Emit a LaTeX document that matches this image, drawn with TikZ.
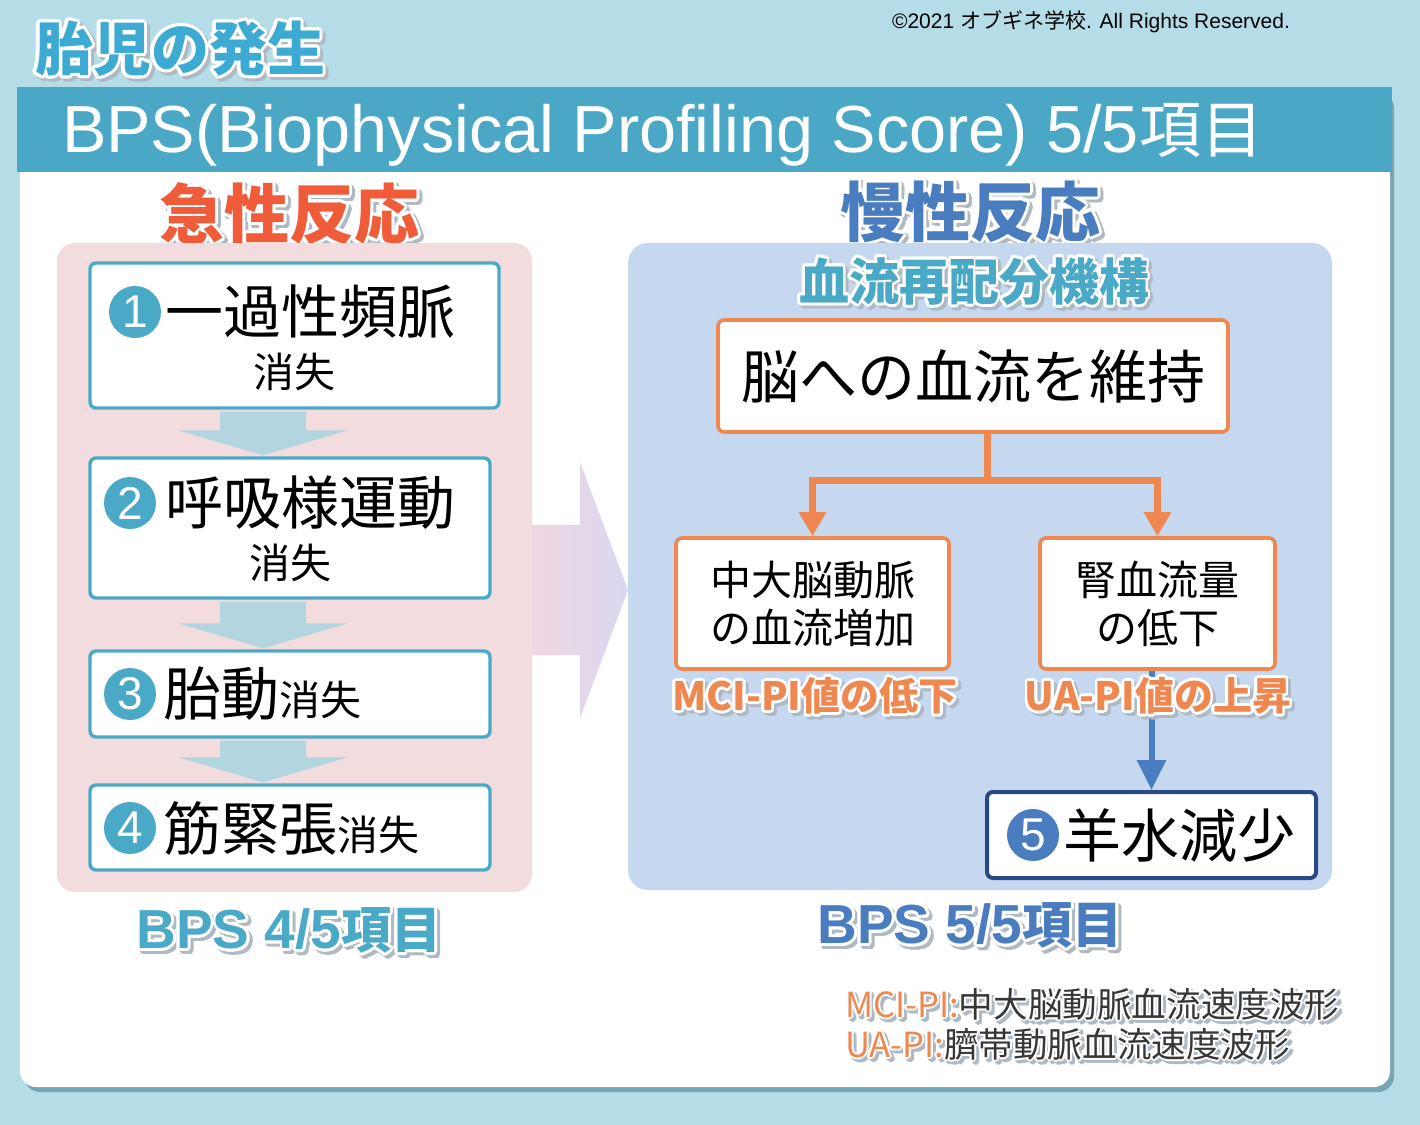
\documentclass[tikz,border=0pt]{standalone}
\usepackage{fontspec}
\usepackage[copies]{contour}
\setmainfont{Noto Sans CJK JP}
\newfontfamily\jp{Noto Sans CJK JP}
\newfontfamily\lat{Liberation Sans}
\usetikzlibrary{calc,arrows.meta}
\newcommand\myfs[2]{\fontsize{#1pt}{#2pt}\selectfont}
\definecolor{bgblue}{RGB}{181,221,231}
\definecolor{pshadow}{RGB}{120,165,180}
\definecolor{hdr}{RGB}{74,168,198}
\definecolor{tealc}{RGB}{75,169,200}
\definecolor{pinkp}{RGB}{242,220,222}
\definecolor{bluep}{RGB}{197,216,240}
\definecolor{orng}{RGB}{238,136,80}
\definecolor{redt}{RGB}{240,92,58}
\definecolor{bluet}{RGB}{74,124,192}
\definecolor{navyb}{RGB}{42,72,130}
\definecolor{arrlb}{RGB}{178,213,224}
\definecolor{arrpk}{RGB}{240,214,224}
\definecolor{arrlv}{RGB}{216,216,242}
\definecolor{dgray}{RGB}{55,55,55}
\definecolor{shdc}{RGB}{175,185,195}
\definecolor{ttlc}{RGB}{60,170,210}
\newcommand\glowtxt[5]{%
  \node[#3, text=shdc] at ($(#2)+(3,3)$) {\contourlength{#4}\contour{shdc}{#5}};
  \node[#3] (#1) at (#2) {\contourlength{#4}\contour{white}{#5}};}
\tikzset{
  txt/.style={inner sep=0pt, outer sep=0pt},
  lbox/.style={draw=tealc, line width=1.7pt, fill=white, rounded corners=3pt, inner sep=0pt},
  obox/.style={draw=orng, line width=1.8pt, fill=white, rounded corners=3pt, inner sep=0pt},
  nbox/.style={draw=navyb, line width=2pt, fill=white, rounded corners=3pt, inner sep=0pt},
  ncirc/.style={circle, fill=tealc, text=white, minimum size=26pt, inner sep=0pt, font=\lat\myfs{23}{23}},
  bigtxt/.style={txt, font=\myfs{29}{29}},
  smtxt/.style={txt, font=\myfs{20.5}{20.5}},
  oline/.style={draw=orng, line width=3.5pt, -{Triangle[width=13pt,length=12pt]}},
  bline/.style={draw=bluet, line width=3pt, -{Triangle[width=14pt,length=15pt]}},
}
\begin{document}
\begin{tikzpicture}[x=0.5pt,y=-0.5pt]
\useasboundingbox (0,0) rectangle (1420,1125);
\fill[bgblue] (0,0) rectangle (1420,1125);
% main panel
\fill[pshadow, rounded corners=8pt] (24,92) rectangle (1394,1092);
\fill[white, rounded corners=8pt] (20,88) rectangle (1390,1087);
\fill[hdr] (17,87) rectangle (1392,172);
\node[txt, anchor=base west, text=white, font=\lat\myfs{33.3}{33.3}] (hdrtxt) at (62,152)
  {BPS(Biophysical Profiling Score) 5/5{\jp\myfs{31}{31}項目}};
% title and copyright
\glowtxt{ttl}{180,50}{txt, text=ttlc, font=\bfseries\myfs{29}{29}}{1.6pt}{胎児の発生}
\node[txt, font=\myfs{10.5}{10.5}] (copy) at (1091,22) {{\lat ©2021 }オブギネ学校{\lat . All Rights Reserved.}};
% section headings
\glowtxt{acute}{289,215}{txt, text=redt, font=\bfseries\myfs{32.5}{32.5}}{1.6pt}{急性反応}
\glowtxt{chronic}{970,213}{txt, text=bluet, font=\bfseries\myfs{32.5}{32.5}}{1.6pt}{慢性反応}
% panels
\fill[pinkp, rounded corners=9pt] (57,243) rectangle (532,892);
\fill[bluep, rounded corners=10pt] (628,243) rectangle (1332,890);
\coordinate (lp) at (532,590);
\coordinate (rp) at (628,590);
% big arrow
\shade[left color=arrpk, right color=arrlv]
  ($(lp)+(0,-65)$) -- ($(lp)+(48,-65)$) -- ($(lp)+(48,-128)$) -- (rp)
  -- ($(lp)+(48,128)$) -- ($(lp)+(48,65)$) -- ($(lp)+(0,65)$) -- cycle;
% left boxes
\node[lbox, minimum width=204.5pt, minimum height=72.5pt] (b1) at (294.5,335.5) {};
\node[lbox, minimum width=200pt, minimum height=70pt] (b2) at (290,528) {};
\node[lbox, minimum width=200pt, minimum height=43pt] (b3) at (290,694) {};
\node[lbox, minimum width=200pt, minimum height=42.5pt] (b4) at (290,827.5) {};
\coordinate (ax) at (263,0);
\foreach \a/\b in {b1/b2,b2/b3,b3/b4}{
  \fill[arrlb] ($(ax |- \a.south)+(-43,2)$) -- ($(ax |- \a.south)+(43,2)$)
    -- ($(ax |- \b.north)+(43,-26)$) -- ($(ax |- \b.north)+(85,-26)$)
    -- ($(ax |- \b.north)+(0,-1)$) -- ($(ax |- \b.north)+(-85,-26)$)
    -- ($(ax |- \b.north)+(-43,-26)$) -- cycle;
}
\node[ncirc] (c1) at (135,312) {1};
\node[bigtxt, anchor=west] (t1) at (165,312) {一過性頻脈};
\node[smtxt] (s1) at (294,372) {消失};
\node[ncirc] (c2) at (130,503) {2};
\node[bigtxt, anchor=west] (t2) at (165,503) {呼吸様運動};
\node[smtxt] (s2) at (290,563) {消失};
\node[ncirc] (c3) at (130,694) {3};
\node[txt, anchor=west] (t3) at (163,694) {{\myfs{29}{29}胎動}{\myfs{20.5}{20.5}消失}};
\node[ncirc] (c4) at (130,828) {4};
\node[txt, anchor=west] (t4) at (163,828) {{\myfs{29}{29}筋緊張}{\myfs{20.5}{20.5}消失}};
% right side
\glowtxt{redis}{974,283}{txt, text=tealc, font=\bfseries\myfs{25}{25}}{1.4pt}{血流再配分機構}
\node[obox, minimum width=255pt, minimum height=56pt] (brain) at (973,376) {};
\node[bigtxt] (braint) at (973,376) {脳への血流を維持};
\node[obox, minimum width=136.5pt, minimum height=65.5pt] (mca) at (812.5,603.5) {};
\node[txt, align=center, font=\myfs{20.5}{24}] (mcat) at (812.5,604) {中大脳動脈\\の血流増加};
\node[obox, minimum width=117.5pt, minimum height=65.5pt] (kid) at (1157.5,603.5) {};
\node[txt, align=center, font=\myfs{20.5}{24}] (kidt) at (1157.5,604) {腎血流量\\の低下};
\coordinate (jn) at (987,480);
\draw[oline] (jn |- brain.south) -- (jn) -| (mca.north);
\draw[oline] (jn) -| (kid.north);
\node[nbox, minimum width=164.5pt, minimum height=43pt] (five) at (1151.5,835) {};
\draw[bline] (five.north |- kid.south) -- (five.north);
\glowtxt{mcipi}{815,697}{txt, text=orng, font=\bfseries\myfs{19.5}{19.5}}{1.3pt}{MCI-PI値の低下}
\glowtxt{uapi}{1158,697}{txt, text=orng, font=\bfseries\myfs{19.5}{19.5}}{1.3pt}{UA-PI値の上昇}
\node[ncirc, fill=bluet] (c5) at (1033,835) {5};
\node[bigtxt, anchor=west] (t5) at (1063,835) {羊水減少};
% bottom labels
\glowtxt{bps4}{289,932}{txt, text=tealc, font=\bfseries\myfs{25}{25}}{1.4pt}{{\lat\bfseries\myfs{27.5}{27.5}BPS 4/5}項目}
\glowtxt{bps5}{970,927}{txt, text=bluet, font=\bfseries\myfs{25}{25}}{1.4pt}{{\lat\bfseries\myfs{27.5}{27.5}BPS 5/5}項目}
% legend
\glowtxt{l1a}{845,1017}{txt, anchor=base west, text=orng, font=\myfs{17.3}{17.3}}{1pt}{MCI-PI:}
\glowtxt{l1b}{l1a.base east}{txt, anchor=base west, text=dgray, font=\myfs{17.3}{17.3}}{1pt}{中大脳動脈血流速度波形}
\glowtxt{l2a}{845,1057}{txt, anchor=base west, text=orng, font=\myfs{17.3}{17.3}}{1pt}{UA-PI:}
\glowtxt{l2b}{l2a.base east}{txt, anchor=base west, text=dgray, font=\myfs{17.3}{17.3}}{1pt}{臍帯動脈血流速度波形}
\end{tikzpicture}
\end{document}
